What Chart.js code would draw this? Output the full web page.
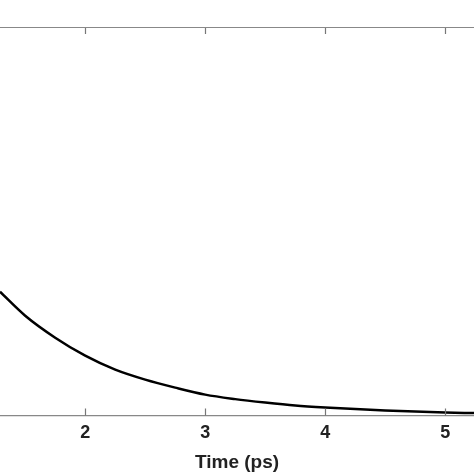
<!DOCTYPE html>
<html><head><meta charset="utf-8">
<script src="https://cdn.jsdelivr.net/npm/chart.js@4"></script>
<style>html,body{margin:0;padding:0;background:#fff}#c{display:block}</style>
</head><body>
<div style="width:474px;height:474px"><canvas id="c"></canvas></div>
<script>
// decay curve (arbitrary units)
const times = [1.29, 1.5, 1.75, 2.0, 2.25, 2.5, 2.75, 3.0, 3.25, 3.5, 3.75, 4.0, 4.5, 5.0, 5.24];
const signal = [124, 100, 78, 60, 46, 36, 28, 21, 16.5, 13, 10, 8, 5, 3, 2.5];
const xTicks = [2, 3, 4, 5];

// inward tick marks on top and bottom, MATLAB style
const innerTicks = {
  id: 'innerTicks',
  afterDraw(chart) {
    const { ctx, chartArea: a, scales: { x } } = chart;
    ctx.save();
    ctx.strokeStyle = '#777'; ctx.lineWidth = 1.2;
    xTicks.forEach(t => {
      const px = Math.round(x.getPixelForValue(t)) + 0.5;
      ctx.beginPath();
      ctx.moveTo(px, a.bottom); ctx.lineTo(px, a.bottom - 7);
      ctx.moveTo(px, a.top); ctx.lineTo(px, a.top + 7);
      ctx.stroke();
    });
    ctx.strokeStyle = '#888';
    ctx.beginPath(); ctx.moveTo(0, a.top + 0.5); ctx.lineTo(a.right, a.top + 0.5); ctx.stroke();
    ctx.restore();
  }
};

new Chart(document.getElementById('c'), {
  type: 'line',
  data: { datasets: [{ data: times.map((t, i) => ({ x: t, y: signal[i] })), borderColor: '#000', borderWidth: 2.5, pointRadius: 0, cubicInterpolationMode: 'monotone' }] },
  options: {
    responsive: true, maintainAspectRatio: false, animation: false,
    layout: { padding: { top: 27, left: 0, right: 0, bottom: 0 } },
    plugins: { legend: { display: false }, tooltip: { enabled: false } },
    scales: {
      x: {
        type: 'linear', min: 1.29, max: 5.24,
        afterBuildTicks: s => { s.ticks = xTicks.map(v => ({ value: v })); },
        grid: { display: false, drawTicks: false },
        border: { display: true, color: '#888', width: 1.2 },
        ticks: { color: '#222', font: { family: 'Liberation Sans', size: 18, weight: 'bold' }, padding: 7 },
        title: { display: true, text: 'Time (ps)', color: '#222', font: { family: 'Liberation Sans', size: 19, weight: 'bold' }, padding: { top: 0, bottom: 0 } }
      },
      y: { display: false, min: 0, max: 389 }
    }
  },
  plugins: [innerTicks]
});
</script>
</body></html>
